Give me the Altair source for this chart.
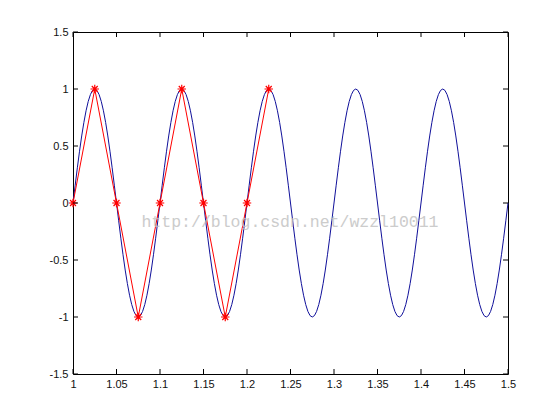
import altair as alt
import pandas as pd

# Blue curve: samples every 0.0025 from 1.0 to 1.5
blue_t0 = 1.0
blue_step = 0.0025
blue_y = [
    0, 0.156, 0.309, 0.454, 0.588, 0.707, 0.809, 0.891, 0.951, 0.988,
    1, 0.988, 0.951, 0.891, 0.809, 0.707, 0.588, 0.454, 0.309, 0.156,
    0, -0.156, -0.309, -0.454, -0.588, -0.707, -0.809, -0.891, -0.951, -0.988,
    -1, -0.988, -0.951, -0.891, -0.809, -0.707, -0.588, -0.454, -0.309, -0.156,
    0, 0.156, 0.309, 0.454, 0.588, 0.707, 0.809, 0.891, 0.951, 0.988,
    1, 0.988, 0.951, 0.891, 0.809, 0.707, 0.588, 0.454, 0.309, 0.156,
    0, -0.156, -0.309, -0.454, -0.588, -0.707, -0.809, -0.891, -0.951, -0.988,
    -1, -0.988, -0.951, -0.891, -0.809, -0.707, -0.588, -0.454, -0.309, -0.156,
    0, 0.156, 0.309, 0.454, 0.588, 0.707, 0.809, 0.891, 0.951, 0.988,
    1, 0.988, 0.951, 0.891, 0.809, 0.707, 0.588, 0.454, 0.309, 0.156,
    0, -0.156, -0.309, -0.454, -0.588, -0.707, -0.809, -0.891, -0.951, -0.988,
    -1, -0.988, -0.951, -0.891, -0.809, -0.707, -0.588, -0.454, -0.309, -0.156,
    0, 0.156, 0.309, 0.454, 0.588, 0.707, 0.809, 0.891, 0.951, 0.988,
    1, 0.988, 0.951, 0.891, 0.809, 0.707, 0.588, 0.454, 0.309, 0.156,
    0, -0.156, -0.309, -0.454, -0.588, -0.707, -0.809, -0.891, -0.951, -0.988,
    -1, -0.988, -0.951, -0.891, -0.809, -0.707, -0.588, -0.454, -0.309, -0.156,
    0, 0.156, 0.309, 0.454, 0.588, 0.707, 0.809, 0.891, 0.951, 0.988,
    1, 0.988, 0.951, 0.891, 0.809, 0.707, 0.588, 0.454, 0.309, 0.156,
    0, -0.156, -0.309, -0.454, -0.588, -0.707, -0.809, -0.891, -0.951, -0.988,
    -1, -0.988, -0.951, -0.891, -0.809, -0.707, -0.588, -0.454, -0.309, -0.156,
    0,
]
blue_x = [round(blue_t0 + blue_step * i, 5) for i in range(len(blue_y))]

# Red sampled points
red_x = [1.0, 1.025, 1.05, 1.075, 1.1, 1.125, 1.15, 1.175, 1.2, 1.225]
red_y = [0, 1, 0, -1, 0, 1, 0, -1, 0, 1]

x_ticks = [1, 1.05, 1.1, 1.15, 1.2, 1.25, 1.3, 1.35, 1.4, 1.45, 1.5]
y_ticks = [-1.5, -1, -0.5, 0, 0.5, 1, 1.5]
watermark = "http://blog.csdn.net/wzzl10011"

W, H = 435, 342

blue_df = pd.DataFrame({"x": blue_x, "y": blue_y})
red_df = pd.DataFrame({"x": red_x, "y": red_y})
xt_df = pd.DataFrame({"x": x_ticks})
yt_df = pd.DataFrame({"y": y_ticks})

xscale = alt.Scale(domain=[1, 1.5], nice=False, zero=False)
yscale = alt.Scale(domain=[-1.5, 1.5], nice=False, zero=False)

xaxis = alt.Axis(values=x_ticks, labelExpr="'' + datum.value", title=None,
                 grid=False, domain=False, ticks=False, labelPadding=4,
                 labelFlush=False, labelOverlap=False,
                 labelFont="Liberation Sans", labelFontSize=11, labelColor="#111")
yaxis = alt.Axis(values=y_ticks, labelExpr="'' + datum.value", title=None,
                 grid=False, domain=False, ticks=False, labelPadding=5,
                 labelFlush=False, labelOverlap=False,
                 labelFont="Liberation Sans", labelFontSize=11, labelColor="#111")

blue = alt.Chart(blue_df).mark_line(color="#10109a", strokeWidth=1).encode(
    x=alt.X("x:Q", scale=xscale, axis=xaxis),
    y=alt.Y("y:Q", scale=yscale, axis=yaxis),
)

red_line = alt.Chart(red_df).mark_line(color="#ff0000", strokeWidth=1).encode(
    x=alt.X("x:Q", scale=xscale), y=alt.Y("y:Q", scale=yscale)
)

star = "M-1,0L1,0M0,-1L0,1M-0.7,-0.7L0.7,0.7M-0.7,0.7L0.7,-0.7"
red_pts = alt.Chart(red_df).mark_point(shape=star, filled=False, stroke="#ff0000",
                                        strokeWidth=1.2, size=72, opacity=1).encode(
    x=alt.X("x:Q", scale=xscale), y=alt.Y("y:Q", scale=yscale)
)

tick_len = 5
xt_bottom = alt.Chart(xt_df).mark_rule(color="black", strokeWidth=1).encode(
    x=alt.X("x:Q", scale=xscale), y=alt.value(H), y2=alt.value(H - tick_len))
xt_top = alt.Chart(xt_df).mark_rule(color="black", strokeWidth=1).encode(
    x=alt.X("x:Q", scale=xscale), y=alt.value(0), y2=alt.value(tick_len))
yt_left = alt.Chart(yt_df).mark_rule(color="black", strokeWidth=1).encode(
    y=alt.Y("y:Q", scale=yscale), x=alt.value(0), x2=alt.value(tick_len))
yt_right = alt.Chart(yt_df).mark_rule(color="black", strokeWidth=1).encode(
    y=alt.Y("y:Q", scale=yscale), x=alt.value(W), x2=alt.value(W - tick_len))

wm = alt.Chart(pd.DataFrame({"t": [watermark]})).mark_text(
    font="Liberation Mono", fontSize=16.5, color="#c0c0c0", opacity=0.8,
    align="center", baseline="alphabetic"
).encode(text="t:N", x=alt.value(217), y=alt.value(195))

chart = alt.layer(blue, red_line, red_pts, xt_bottom, xt_top, yt_left, yt_right, wm).properties(
    width=W, height=H,
    autosize=alt.AutoSizeParams(type="none"),
    padding={"left": 65, "top": 24, "right": 30, "bottom": 30},
    background="white",
).configure_view(stroke="black", strokeWidth=1)

chart.save("out.html", embed_options={"renderer": "svg", "actions": False})
